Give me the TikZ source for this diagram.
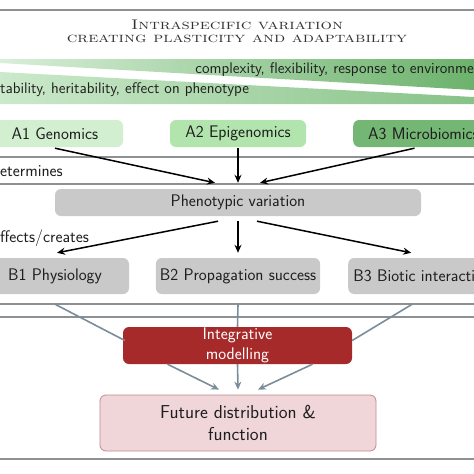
\documentclass[tikz,border=0pt]{standalone}
\usepackage{xcolor}
\usepackage{graphicx}
\usepackage{tikz}
\usetikzlibrary{arrows.meta,calc}
\definecolor{ivText}{HTML}{1E1E1E}
\definecolor{ivTitle}{HTML}{333333}
\definecolor{ivSep}{HTML}{8E9194}
\definecolor{ivBandL}{HTML}{D8EED8}
\definecolor{ivBandR}{HTML}{6CB26C}
\definecolor{ivBandLowL}{HTML}{CBE9CB}
\definecolor{ivBandLowR}{HTML}{88C288}
\definecolor{ivGreenA}{HTML}{D2EFD0}
\definecolor{ivGreenB}{HTML}{B2E5AE}
\definecolor{ivGreenC}{HTML}{74B674}
\definecolor{ivGray}{HTML}{C9C9C9}
\definecolor{ivModel}{HTML}{A62A2A}
\definecolor{ivFuture}{HTML}{F0D6D9}
\definecolor{ivFutureEdge}{HTML}{C08A90}
\definecolor{ivLink}{HTML}{7B8D99}
\tikzset{
  ivbox/.style={rounded corners=6pt,align=center,inner ysep=0pt,inner xsep=15pt,
                font=\fontsize{16.8}{20}\selectfont\sffamily,text=ivText,minimum height=27pt},
  ivgene/.style={ivbox,minimum width=136pt},
  ivgray/.style={ivbox,fill=ivGray},
  ivtrait/.style={ivgray,minimum height=36pt,minimum width=148pt,inner xsep=4pt},
  ivmodel/.style={ivbox,fill=ivModel,text=white,minimum width=229pt,minimum height=37pt},
  ivout/.style={ivbox,fill=ivFuture,draw=ivFutureEdge,line width=0.8pt,minimum width=276pt,
                minimum height=56pt,font=\fontsize{18.7}{22}\selectfont\sffamily},
  ivflow/.style={-{Stealth[length=8pt,width=7pt]},draw=black,line width=1.5pt},
  ivlink/.style={draw=ivLink,line width=1.6pt},
  ivlinkflow/.style={ivlink,-{Stealth[length=8pt,width=7pt]}},
  ivsep/.style={draw=ivSep,line width=1.3pt},
  ivrule/.style={draw=ivSep,line width=2.2pt},
  ivlbl/.style={font=\fontsize{16.8}{20}\selectfont\sffamily,text=ivText,inner sep=0pt},
  ivband/.style={font=\fontsize{15.4}{18}\selectfont\sffamily,text=ivText,inner sep=0pt},
}
\begin{document}
\begin{tikzpicture}[x=1pt,y=-1pt]
  \useasboundingbox (0,0) rectangle (474,474);
  \clip (0,0) rectangle (474,474);
  \fill[white] (0,0) rectangle (474,474);

  % rules and title
  \draw[ivrule] (0,10) -- (474,10);
  \draw[ivrule] (0,459) -- (474,459);
  \node[align=center,text=ivTitle,inner sep=0pt,font=\fontsize{14}{13}\selectfont\rmfamily\scshape] (title) at (237,31)
       {\scalebox{1.28}[1]{Intraspecific variation}\\\scalebox{1.28}[1]{creating plasticity and adaptability}};

  % wedges
  \path[left color=ivBandL,right color=ivBandR] (0,59) -- (474,59) -- (474,90) -- (0,63) -- cycle;
  \path[left color=ivBandLowL,right color=ivBandLowR] (0,72) -- (474,97) -- (474,104) -- (0,104) -- cycle;
  \node[ivband,anchor=east] (bandup) at (474,70) {complexity, flexibility, response to environme};
  \node[ivband,anchor=west] (bandlow) at (0,90) {tability, heritability, effect on phenotype};

  % separators
  \draw[ivsep] (0,157) -- (474,157);
  \draw[ivsep] (0,184) -- (474,184);
  \draw[ivsep] (0,304) -- (474,304);
  \draw[ivsep] (0,317) -- (474,317);
  \node[ivlbl,anchor=west] (det) at (0,171) {etermines};
  \node[ivlbl,anchor=west] (eff) at (0,238) {ffects/creates};

  % omics
  \node[ivgene,fill=ivGreenA] (A1) at (55,133.5)  {A1 Genomics};
  \node[ivgene,fill=ivGreenB] (A2) at (238,133.5) {A2 Epigenomics};
  \node[ivgene,fill=ivGreenC,anchor=west] (A3) at (353,133.5) {A3 Microbiomics};

  \node[ivgray,minimum width=366pt] (pheno) at (238,202.5) {Phenotypic variation};

  \node[ivtrait] (B1) at (55,276)  {B1 Physiology};
  \node[ivtrait] (B2) at (238,276) {B2 Propagation success};
  \node[ivtrait,anchor=west] (B3) at (348,276) {B3 Biotic interaction};

  \node[ivmodel] (integ) at (237.5,345.5) {Integrative\\modelling};
  \node[ivout] (future) at (238,423) {Future distribution \&\\function};

  % arrows
  \draw[ivflow] ($(A1.south)+(0,1)$) -- ($(pheno.north)+(-23,-6)$);
  \draw[ivflow] ($(A2.south)+(0,1)$) -- ($(pheno.north)+(0,-6)$);
  \draw[ivflow] ($(A3.south)+(-9,1)$) -- ($(pheno.north)+(22,-6)$);
  \draw[ivflow] ($(pheno.south)+(-20,5)$) -- ($(B1.north)+(2,-5)$);
  \draw[ivflow] ($(pheno.south)+(0,5)$) -- ($(B2.north)+(0,-5)$);
  \draw[ivflow] ($(pheno.south)+(19,5)$) -- ($(B3.north)+(-11,-5)$);

  \draw[ivlink] ($(B1.south)+(0,10)$) -- ($(integ.west)+(2,-5)$);
  \draw[ivlink] ($(B2.south)+(0,10)$) -- (integ.north);
  \draw[ivlink] ($(B3.south)+(-10,10)$) -- ($(integ.east)+(0,-5)$);
  \foreach \dx/\ex in {-70/-19,0/0,75/20}{
    \draw[ivlinkflow] ($(integ.south)+(\dx,0)$) -- ($(future.north)+(\ex,-5)$);
  }
\end{tikzpicture}
\end{document}
